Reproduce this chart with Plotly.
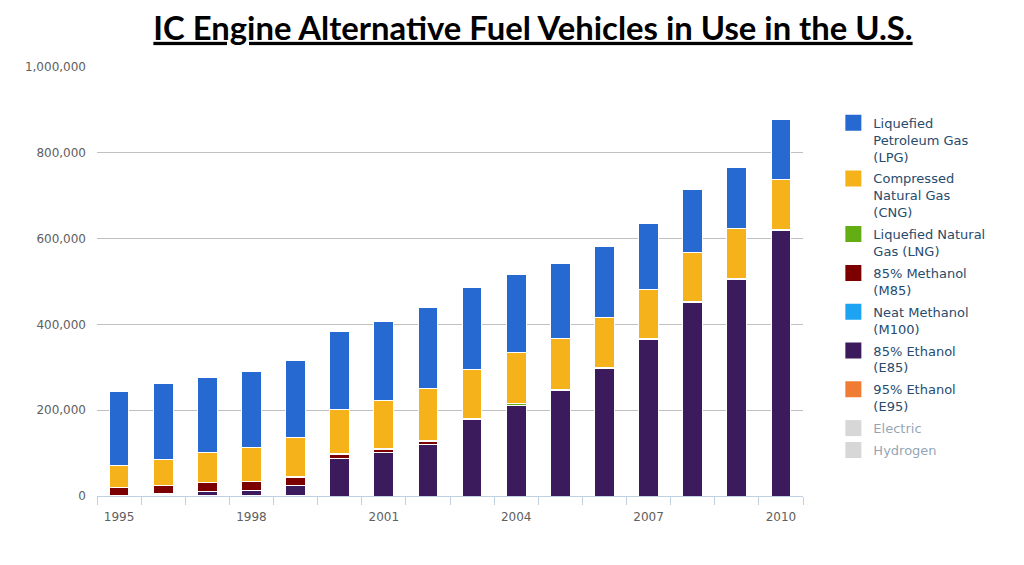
import plotly.graph_objects as go

years = [1995, 1996, 1997, 1998, 1999, 2000, 2001, 2002, 2003, 2004, 2005, 2006, 2007, 2008, 2009, 2010]
tick_years = [1995, 1998, 2001, 2004, 2007, 2010]

lpg = [172000, 176000, 176000, 177000, 179000, 182000, 185000, 188000, 190000, 183000, 174000, 165000, 153000, 147000, 143000, 140000]
cng = [50000, 60000, 69000, 79000, 91000, 101000, 112000, 121000, 114000, 119000, 118000, 116000, 114000, 114000, 115000, 116000]
lng = [600, 700, 800, 1200, 1700, 2100, 2600, 2700, 2600, 2700, 2700, 2800, 2800, 3100, 3200, 3400]
m85 = [18000, 20000, 21000, 20000, 19000, 10000, 8000, 6000, 0, 0, 0, 0, 0, 0, 0, 0]
m100 = [400, 200, 200, 200, 200, 0, 0, 0, 0, 0, 0, 0, 0, 0, 0, 0]
e85 = [1500, 4500, 9100, 12800, 24600, 87600, 100300, 121000, 179000, 211800, 246400, 297100, 364400, 450300, 504300, 618500]
e95 = [30, 140, 350, 14, 14, 4, 0, 0, 0, 0, 0, 0, 0, 0, 0, 0]
electric = [0, 0, 0, 0, 0, 0, 0, 0, 0, 0, 0, 0, 0, 0, 0, 0]
hydrogen = [0, 0, 0, 0, 0, 0, 0, 0, 0, 0, 0, 0, 0, 0, 0, 0]

# stacking order bottom -> top
series = [
    ("Hydrogen", hydrogen, "#B0B0B0", "legendonly"),
    ("Electric", electric, "#B0B0B0", "legendonly"),
    ("95% Ethanol<br>(E95)", e95, "#F07C33", True),
    ("85% Ethanol<br>(E85)", e85, "#3B1B5C", True),
    ("Neat Methanol<br>(M100)", m100, "#1CA4F2", True),
    ("85% Methanol<br>(M85)", m85, "#7C0000", True),
    ("Liquefied Natural<br>Gas (LNG)", lng, "#62AE14", True),
    ("Compressed<br>Natural Gas<br>(CNG)", cng, "#F6B21A", True),
    ("Liquefied<br>Petroleum Gas<br>(LPG)", lpg, "#2569D1", True),
]

fig = go.Figure()
for name, vals, color, vis in series:
    fig.add_trace(go.Bar(
        x=years, y=vals, name=name, visible=(True if vis is True else False),
        showlegend=False,
        marker=dict(color=color, line=dict(color="white", width=1)),
    ))
# legend entries (top of stack first) with larger square swatches
for i, (name, vals, color, vis) in enumerate(reversed(series)):
    fig.add_trace(go.Scatter(
        x=[None], y=[None], mode="markers", name=name, visible=vis,
        legendgroup="g%02d" % i,
        marker=dict(symbol="square", size=16, color=color),
    ))

fig.update_layout(
    width=1024, height=565,
    barmode="stack", bargap=0.55,
    paper_bgcolor="white", plot_bgcolor="white",
    margin=dict(l=89, r=229, t=59, b=77),
    title=dict(
        text="<u><b>IC Engine Alternative Fuel Vehicles in Use in the U.S.</b></u>",
        x=0.5127, xanchor="center", y=0.964, yanchor="middle",
        font=dict(family="Lato", size=32.8, color="black"),
    ),
    legend=dict(
        x=1.043, xanchor="left", y=0.905, yanchor="top",
        traceorder="grouped", valign="top", tracegroupgap=2,
        itemsizing="trace",
        font=dict(family="DejaVu Sans", size=13, color="#274B6D"),
        bgcolor="rgba(0,0,0,0)",
    ),
    font=dict(family="DejaVu Sans", size=12, color="#606060"),
)

fig.update_xaxes(
    range=[1994.5, 2010.5],
    tickmode="array", tickvals=tick_years, ticktext=[str(y) for y in tick_years],
    ticks="", showgrid=False, zeroline=False,
    showline=True, linecolor="#C0D0E0", linewidth=1,
    ticklabelstandoff=10,
    tickfont=dict(family="DejaVu Sans", size=12, color="#606060"),
    minor=dict(tickvals=[y - 0.5 for y in years] + [2010.5], ticks="outside",
               ticklen=8, tickcolor="#C0D0E0", tickwidth=1, showgrid=False),
)
fig.update_yaxes(
    range=[0, 1000000], dtick=200000, tickformat=",d",
    showgrid=True, gridcolor="#C0C0C0", gridwidth=1,
    zeroline=False, showline=False, ticks="",
    ticklabelstandoff=10,
    tickfont=dict(family="DejaVu Sans", size=12, color="#606060"),
)

fig.write_html("out.html")
